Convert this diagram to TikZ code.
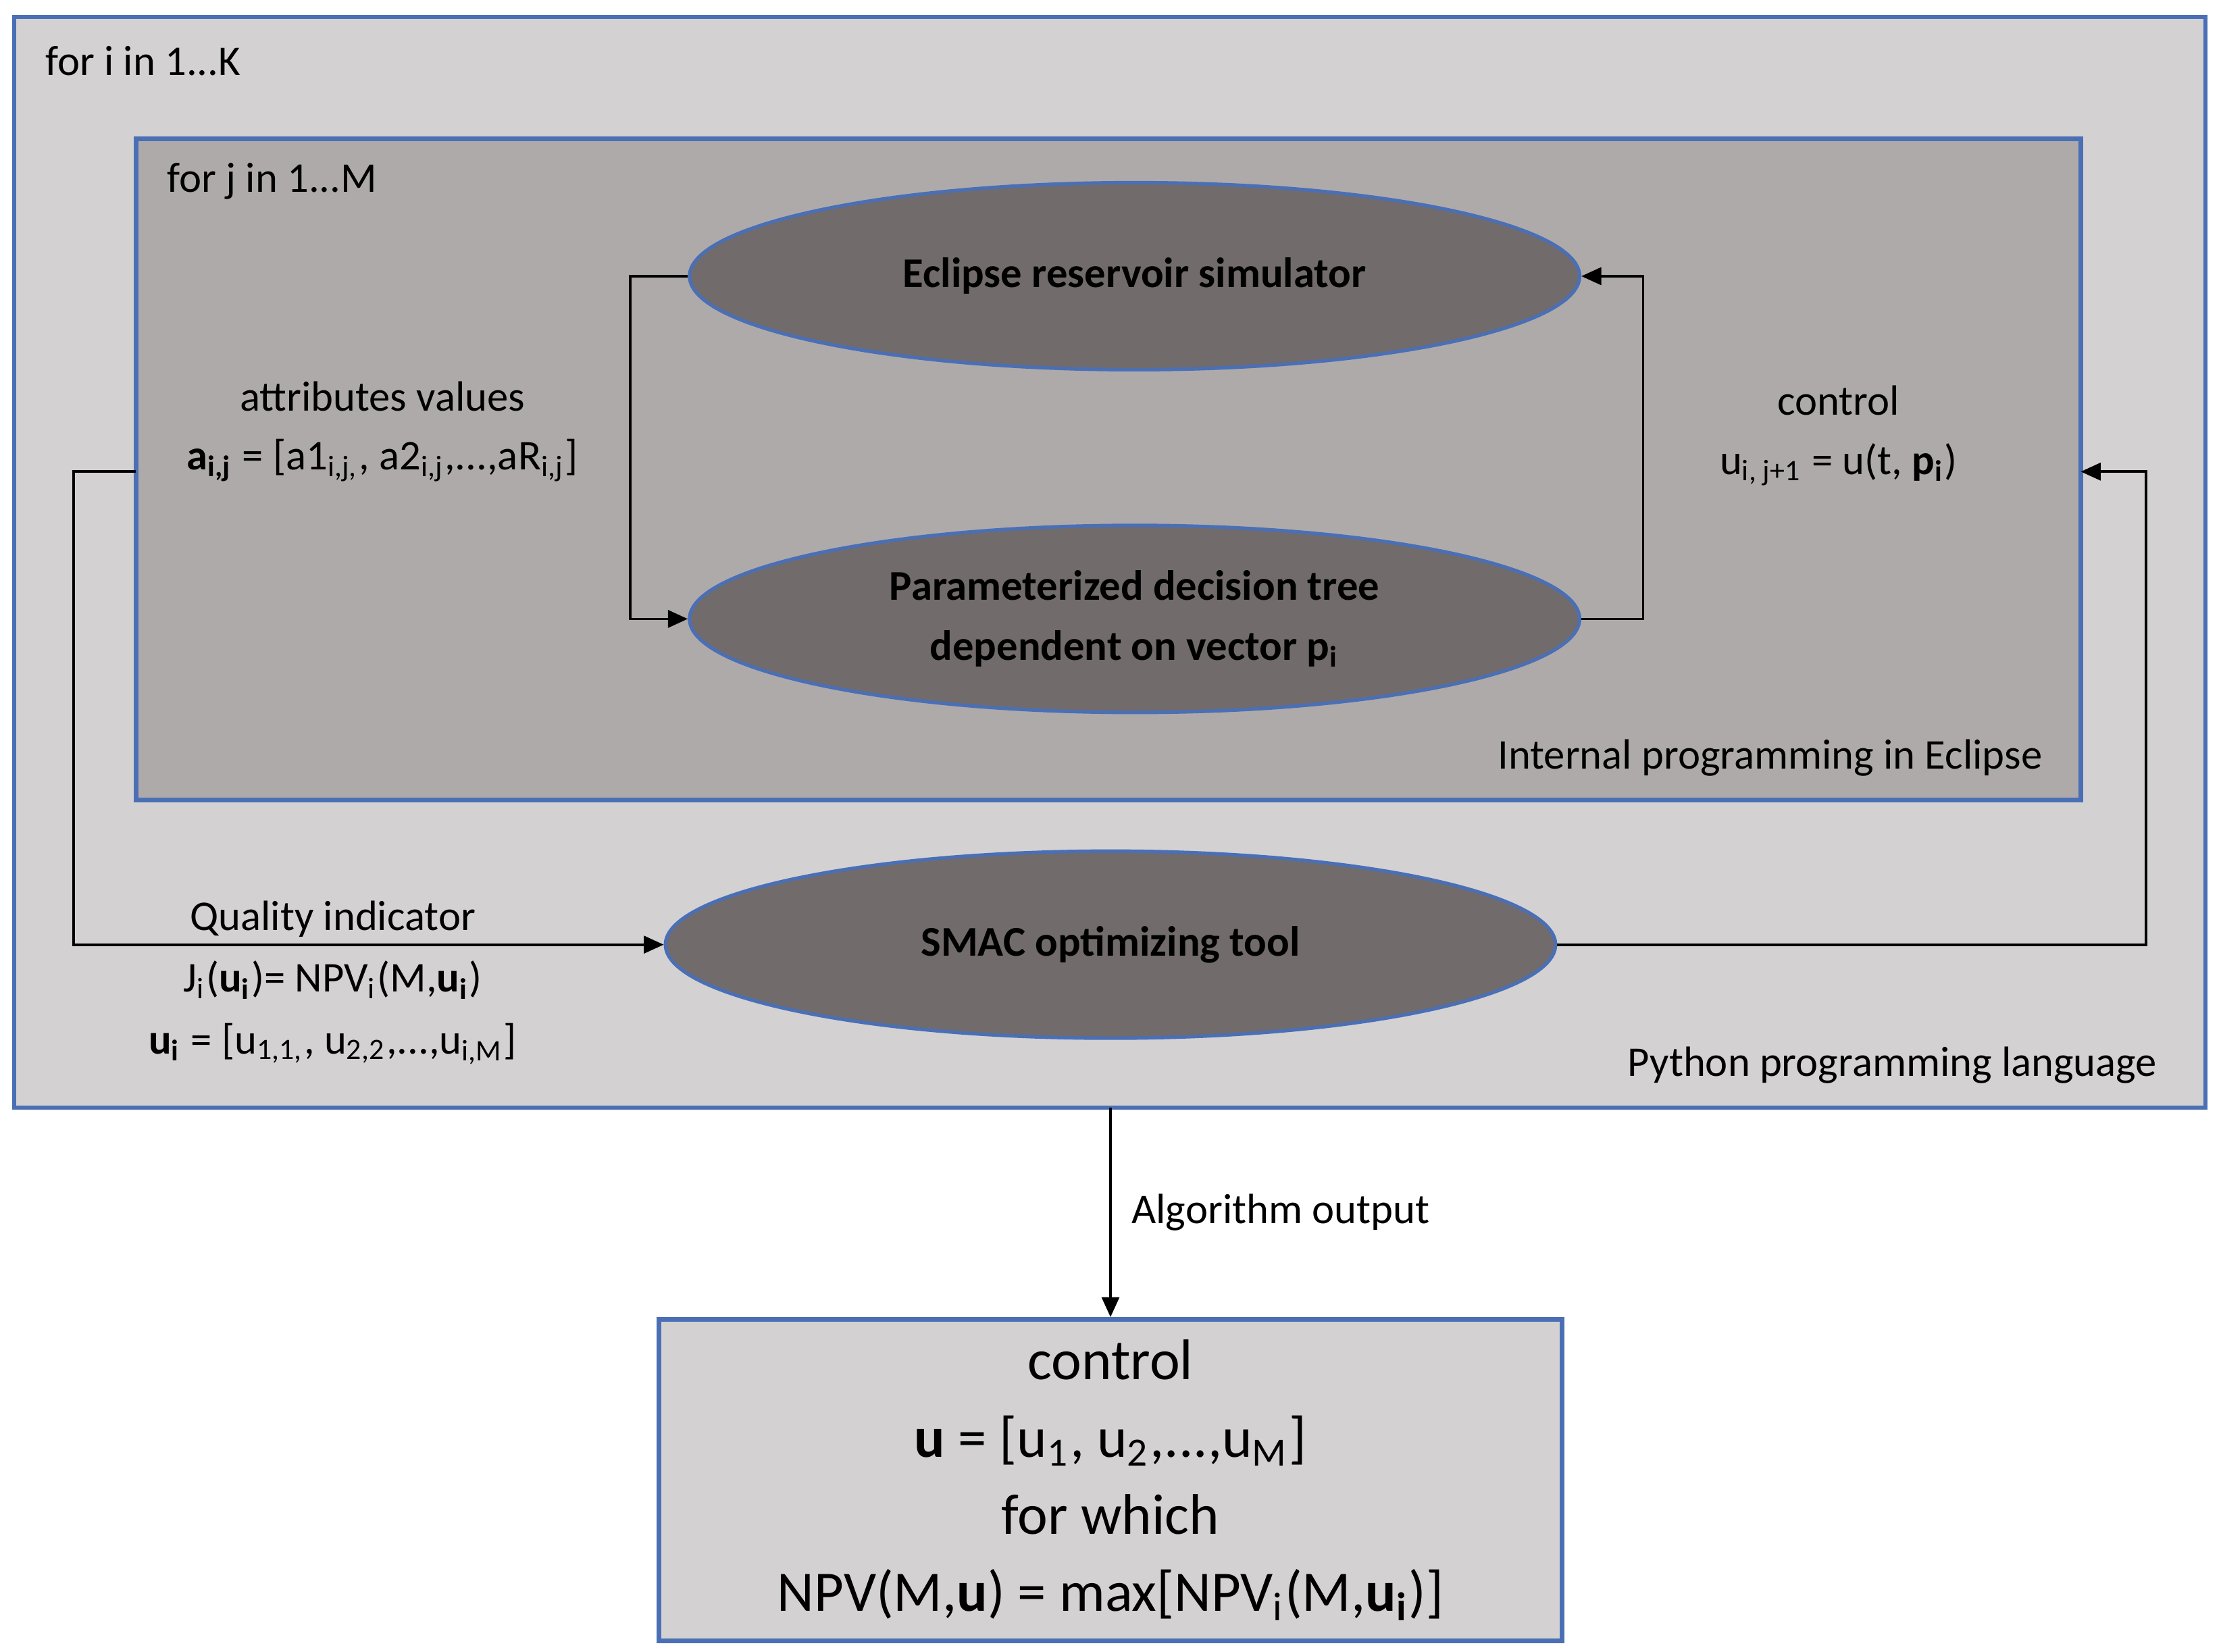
\documentclass[tikz,border=0pt]{standalone}
\usepackage{fontspec}
\setmainfont{Carlito}
\usetikzlibrary{shapes.geometric,arrows.meta}
\definecolor{edgeblue}{HTML}{4A6FB5}
\definecolor{outergray}{HTML}{D3D1D2}
\definecolor{innergray}{HTML}{AFAAAA}
\definecolor{ellgray}{HTML}{716B6B}
\begin{document}
\begin{tikzpicture}[x=0.01cm,y=-0.01cm,
  box/.style={draw=edgeblue,line width=0.9pt},
  ell/.style={ellipse,draw=edgeblue,fill=ellgray,line width=0.7pt,minimum width=6.28cm,minimum height=1.32cm,inner sep=0pt,align=center,font=\fontsize{8.5}{12}\selectfont\bfseries},
  lbl/.style={font=\fontsize{8.5}{11}\selectfont,inner sep=1pt},
  arr/.style={-{Triangle[length=4pt,width=3.5pt]},line width=0.5pt}]
\useasboundingbox (0,0) rectangle (1568,1166);
% boxes
\draw[box,fill=outergray] (10,12) rectangle (1557,782);
\coordinate (outS) at (784,782);
\draw[box,fill=innergray] (96,98) rectangle (1469,565);
\coordinate (innW) at (96,333);
\coordinate (innE) at (1469,333);
\node[lbl,anchor=west] (fi) at (28,43) {for i in 1...K};
\node[lbl,anchor=west] (fj) at (114,128) {for j in 1...M};
% ellipses
\node[ell] (ecl) at (801,195) {Eclipse reservoir simulator};
\node[ell] (tree) at (801,437) {Parameterized decision tree\\dependent on vector p\textsubscript{i}};
\node[ell] (smac) at (784,667) {SMAC optimizing tool};
% inner loop
\draw[arr] (ecl.west) -- (445,195) -- (445,437) -- (tree.west);
\draw[arr] (tree.east) -- (1160,437) -- (1160,195) -- (ecl.east);
\node[lbl] (attr) at (270,280) {attributes values};
\node[lbl] (avec) at (270,325) {\textbf{a\textsubscript{i,j}} = [a1\textsubscript{i,j,}, a2\textsubscript{i,j},...,aR\textsubscript{i,j}]};
\node[lbl] (ctl) at (1298,283) {control};
\node[lbl] (uij) at (1298,328) {u\textsubscript{i, j+1} = u(t, \textbf{p\textsubscript{i}})};
\node[lbl,anchor=east] (int) at (1446,535) {Internal programming in Eclipse};
% outer loop
\draw[arr] (innW) -- (52,333) -- (52,667) -- (smac.west);
\draw[arr] (smac.east) -- (1515,667) -- (1515,333) -- (innE);
\node[lbl] (qi) at (235,649) {Quality indicator};
\node[lbl] (ji) at (235,692) {J\textsubscript{i}(\textbf{u\textsubscript{i}})= NPV\textsubscript{i}(M,\textbf{u\textsubscript{i}})};
\node[lbl] (ui) at (235,737) {\textbf{u\textsubscript{i}} = [u\textsubscript{1,1,}, u\textsubscript{2,2},...,u\textsubscript{i,M}]};
\node[lbl,anchor=east] (py) at (1527,752) {Python programming language};
% result
\node[box,fill=outergray,minimum width=6.37cm,minimum height=2.27cm,inner sep=0pt,anchor=north,align=center,
  font=\fontsize{11.5}{15.5}\selectfont] (res) at (784,930)
  {control\\\textbf{u} = [u\textsubscript{1}, u\textsubscript{2},...,u\textsubscript{M}]\\for which\\NPV(M,\textbf{u}) = max[NPV\textsubscript{i}(M,\textbf{u\textsubscript{i}})]};
\draw[arr] (outS) -- (res.north) node[lbl,midway,anchor=west,xshift=3pt] (alg) {Algorithm output};
\end{tikzpicture}
\end{document}
